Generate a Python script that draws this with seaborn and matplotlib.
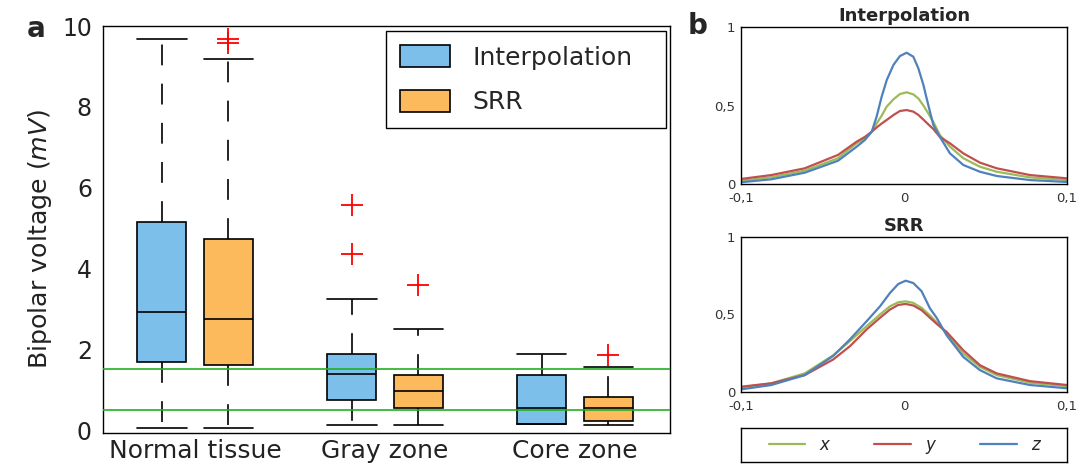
import pandas as pd
import matplotlib
matplotlib.use("Agg")
import matplotlib.pyplot as plt
import seaborn as sns
from matplotlib.patches import Patch
from matplotlib.lines import Line2D

# =========================
# DATA
# =========================

zones = ["Normal tissue", "Gray zone", "Core zone"]
methods = ["Interpolation", "SRR"]

# one entry per (zone, method) pair, zone major
box_zone = ["Normal tissue", "Normal tissue", "Gray zone", "Gray zone", "Core zone", "Core zone"]
box_method = ["Interpolation", "SRR", "Interpolation", "SRR", "Interpolation", "SRR"]
whisker_low = [0.07, 0.07, 0.15, 0.15, 0.17, 0.15]
quart_1 = [1.71, 1.63, 0.76, 0.56, 0.17, 0.25]
median = [2.94, 2.76, 1.40, 0.99, 0.56, 0.56]
quart_3 = [5.16, 4.73, 1.89, 1.38, 1.38, 0.85]
whisker_high = [9.68, 9.18, 3.25, 2.53, 1.89, 1.58]

outlier_zone = ["Normal tissue", "Normal tissue", "Gray zone", "Gray zone", "Gray zone", "Core zone"]
outlier_method = ["SRR", "SRR", "Interpolation", "Interpolation", "SRR", "SRR"]
outlier_value = [9.57, 9.67, 5.59, 4.38, 3.60, 1.87]

threshold_high = 1.54
threshold_low = 0.52

# panel b: normalised profiles
interp_pos = [-0.1, -0.0814, -0.0609, -0.0405, -0.029, -0.024, -0.0198, -0.0168, -0.0137,
              -0.0106, -0.0065, -0.0025, 0.0016, 0.0057, 0.0088, 0.0119, 0.0149, 0.018,
              0.022, 0.0282, 0.0364, 0.0466, 0.0569, 0.0773, 0.1]
interp_x = [0.021, 0.043, 0.085, 0.164, 0.26, 0.29, 0.333, 0.385, 0.435,
            0.493, 0.539, 0.573, 0.584, 0.571, 0.545, 0.50, 0.45, 0.395,
            0.312, 0.238, 0.164, 0.11, 0.078, 0.042, 0.025]
interp_y = [0.032, 0.057, 0.10, 0.185, 0.27, 0.30, 0.333, 0.36, 0.385,
            0.408, 0.439, 0.465, 0.471, 0.461, 0.44, 0.41, 0.38, 0.35,
            0.30, 0.259, 0.195, 0.136, 0.10, 0.057, 0.036]
interp_z = [0.011, 0.03, 0.072, 0.148, 0.238, 0.28, 0.333, 0.429, 0.556,
            0.662, 0.758, 0.815, 0.836, 0.811, 0.737, 0.631, 0.503, 0.376,
            0.30, 0.195, 0.121, 0.078, 0.051, 0.025, 0.013]

srr_pos = [-0.1, -0.0814, -0.0609, -0.0434, -0.0331, -0.0229, -0.0147, -0.0086, -0.0035, 0.001,
           0.0057, 0.0108, 0.0159, 0.02, 0.0262, 0.0364, 0.0466, 0.0569, 0.0773, 0.1]
srr_x = [0.03, 0.056, 0.12, 0.237, 0.329, 0.425, 0.50, 0.553, 0.579, 0.585,
         0.575, 0.543, 0.494, 0.45, 0.376, 0.248, 0.162, 0.109, 0.06, 0.038]
srr_y = [0.034, 0.056, 0.109, 0.21, 0.296, 0.404, 0.479, 0.532, 0.562, 0.568,
         0.558, 0.528, 0.479, 0.44, 0.387, 0.269, 0.173, 0.12, 0.07, 0.045]
srr_z = [0.017, 0.045, 0.109, 0.233, 0.34, 0.457, 0.553, 0.639, 0.697, 0.718,
         0.703, 0.65, 0.54, 0.479, 0.365, 0.226, 0.141, 0.088, 0.045, 0.024]

box_colors = {"Interpolation": "#7BBFEA", "SRR": "#FDBA5C"}
line_colors = {"x": "#9BBB59", "y": "#C0504D", "z": "#4F81BD"}

# =========================
# STYLE
# =========================

sns.set_style("white")
plt.rcParams["font.family"] = ["DejaVu Sans"]
plt.rcParams["mathtext.fontset"] = "dejavusans"
plt.rcParams["axes.edgecolor"] = "black"

fig = plt.figure(figsize=(10.86, 4.67), dpi=100)
W, H = 1086, 467


def px_axes(left, top, right, bottom):
    return fig.add_axes([left / W, 1 - bottom / H, (right - left) / W, (bottom - top) / H])


# =========================
# PANEL A: BOXPLOTS
# =========================

rows = []
for i in range(len(box_zone)):
    for v in (whisker_low[i], quart_1[i], median[i], quart_3[i], whisker_high[i]):
        rows.append({"zone": box_zone[i], "method": box_method[i], "value": v})
box_df = pd.DataFrame(rows)

ax = px_axes(103, 26, 670, 433)

group_width = 0.7
sns.boxplot(data=box_df, x="zone", y="value", hue="method", order=zones, hue_order=methods,
            palette=box_colors, saturation=1, width=group_width, gap=0.26,
            whis=(0, 100), showfliers=False, linecolor="black", linewidth=1.2,
            whiskerprops={"linestyle": (0, (12.5, 11))}, capwidths=0.26,
            legend=False, ax=ax)

outlier_x = [zones.index(z) + (-1 if m == "Interpolation" else 1) * group_width / 4
             for z, m in zip(outlier_zone, outlier_method)]
sns.scatterplot(x=outlier_x, y=outlier_value, marker="+", color="red", s=230,
                linewidth=1.3, ax=ax, zorder=5)

ax.axhline(threshold_high, color="#22B022", linewidth=1.2, zorder=4)
ax.axhline(threshold_low, color="#22B022", linewidth=1.2, zorder=4)

ax.set_xlim(-0.485, 2.5)
ax.set_ylim(-0.05, 10)
ax.set_yticks([0, 2, 4, 6, 8, 10])
ax.set_xticks(range(len(zones)))
ax.set_xticklabels(zones)
ax.set_xlabel("")
ax.set_ylabel("Bipolar voltage ($mV$)", fontsize=18.2, color="#222222")
ax.yaxis.set_label_coords(-0.0865, 0.477)
ax.tick_params(axis="y", direction="in", length=5, labelsize=17, pad=8, colors="#222222")
ax.tick_params(axis="x", length=0, labelsize=18, pad=4, colors="#222222")
for s in ax.spines.values():
    s.set_color("black")
    s.set_linewidth(1.0)

handles = [Patch(facecolor=box_colors[m], edgecolor="black", linewidth=1.2, label=m) for m in methods]
leg = ax.legend(handles=handles, loc="upper left", mode="expand",
                bbox_to_anchor=((386 - 103) / 567, 1 - 5 / 407, 280 / 567, 0),
                fontsize=18, frameon=True, fancybox=False, edgecolor="black", framealpha=1,
                borderaxespad=0, borderpad=0.55, handlelength=2.0, handleheight=1.0,
                handletextpad=0.9, labelspacing=0.8)
leg.get_frame().set_linewidth(1.0)

fig.text(27 / W, 1 - 29 / H, "a", fontsize=20, fontweight="bold", va="center", ha="left")

# =========================
# PANEL B: PROFILES
# =========================

def profile_frame(pos, xs, ys, zs):
    return pd.DataFrame({
        "pos": pos * 3,
        "value": xs + ys + zs,
        "axis": ["x"] * len(pos) + ["y"] * len(pos) + ["z"] * len(pos),
    })


panels = [
    ("Interpolation", profile_frame(interp_pos, interp_x, interp_y, interp_z), (27, 184)),
    ("SRR", profile_frame(srr_pos, srr_x, srr_y, srr_z), (237, 392)),
]

for title, df, (top, bottom) in panels:
    bx = px_axes(741, top, 1067, bottom)
    sns.lineplot(data=df, x="pos", y="value", hue="axis", palette=line_colors,
                 linewidth=1.6, legend=False, ax=bx)
    bx.set_xlim(-0.1, 0.1)
    bx.set_ylim(0, 1)
    bx.set_xticks([-0.1, 0, 0.1])
    bx.set_xticklabels(["-0,1", "0", "0,1"])
    bx.set_yticks([0, 0.5, 1])
    bx.set_yticklabels(["0", "0,5", "1"])
    bx.set_xlabel("")
    bx.set_ylabel("")
    bx.set_title(title, fontsize=13, fontweight="bold", pad=4)
    bx.tick_params(axis="x", direction="in", length=3, labelsize=9.5, pad=6, colors="#333333")
    bx.tick_params(axis="y", direction="out", length=2, labelsize=9.5, pad=2, colors="#333333")
    for s in bx.spines.values():
        s.set_color("black")
        s.set_linewidth(1.0)

fig.text(688 / W, 1 - 26 / H, "b", fontsize=20, fontweight="bold", va="center", ha="left")

lx = px_axes(741, 428, 1067, 462)
lx.set_xticks([])
lx.set_yticks([])
for s in lx.spines.values():
    s.set_color("black")
    s.set_linewidth(1.0)
line_handles = [Line2D([], [], color=line_colors[k], linewidth=1.6, label=k) for k in ["x", "y", "z"]]
lleg = lx.legend(handles=line_handles, loc="center", ncol=3, frameon=False,
                 prop={"size": 12, "style": "italic"}, handlelength=2.2,
                 handletextpad=0.85, columnspacing=2.7)

fig.savefig("out.png", dpi=100)
